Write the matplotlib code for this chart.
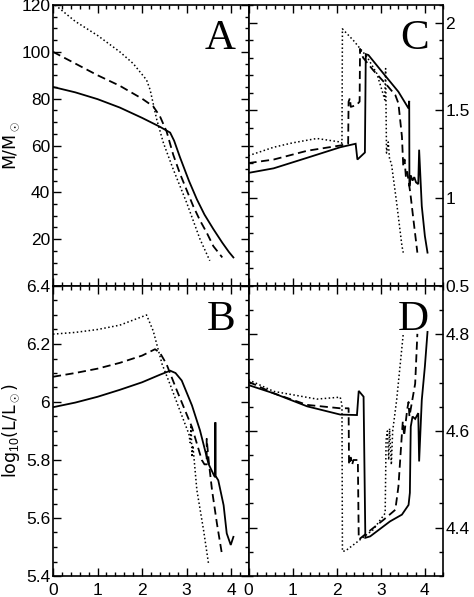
import numpy as np
import matplotlib.pyplot as plt
from matplotlib.ticker import MultipleLocator, FuncFormatter

# Panel A: M/Msun
a_solid_x = [0, 0.5, 1.0, 1.5, 2.0, 2.4, 2.63, 2.72, 2.85, 3.05, 3.23, 3.4, 3.6, 3.8, 3.95, 4.05]
a_solid_y = [85, 82.7, 79.8, 76.2, 71.8, 68, 65.5, 62, 55, 45, 37, 30.5, 24.3, 18.5, 14.5, 12.2]
a_dash_x = [0, 0.5, 1.0, 1.5, 2.0, 2.25, 2.4, 2.55, 2.7, 2.85, 3.0, 3.15, 3.3, 3.45, 3.6, 3.8]
a_dash_y = [100, 95, 90, 85.5, 80, 76.7, 72.5, 66, 56, 48, 41, 34, 28, 22.8, 17, 12.2]
a_dot_x = [0.05, 0.5, 1.0, 1.5, 1.8, 2.1, 2.18, 2.33, 2.48, 2.7, 3.0, 3.3, 3.52]
a_dot_y = [120, 113, 107, 100, 95, 88, 83.8, 71, 61, 49.8, 35.6, 20, 10.8]

# Panel B: log10(L/Lsun)
b_solid_x = [0, 0.5, 1.0, 1.5, 2.0, 2.4, 2.63, 2.75, 2.89, 3.12, 3.30, 3.49, 3.62,
             3.64, 3.645, 3.65, 3.71, 3.83, 3.9, 3.99, 4.05]
b_solid_y = [5.982, 5.998, 6.018, 6.042, 6.068, 6.094, 6.108, 6.1, 6.074, 5.988, 5.902,
             5.787, 5.745, 5.741, 5.93, 5.745, 5.73, 5.644, 5.547, 5.507, 5.535]
b_dash_x = [0, 0.5, 1.0, 1.5, 2.0, 2.29, 2.4, 2.55, 2.78, 3.12, 3.34, 3.4, 3.45, 3.45,
            3.5, 3.57, 3.68, 3.79]
b_dash_y = [6.087, 6.1, 6.115, 6.135, 6.16, 6.182, 6.17, 6.13, 6.04, 5.913, 5.80, 5.785,
            5.785, 5.873, 5.79, 5.696, 5.581, 5.478]
b_dot_x = [0, 0.5, 1.0, 1.5, 2.1, 2.25, 2.45, 2.63, 2.85, 3.05, 3.08, 3.1, 3.12, 3.14,
           3.23, 3.38, 3.49]
b_dot_y = [6.234, 6.24, 6.25, 6.265, 6.30, 6.245, 6.13, 6.06, 5.97, 5.89, 5.86, 5.92,
           5.81, 5.85, 5.696, 5.558, 5.444]

# Panel C
c_solid_x = [0, 0.57, 1.33, 2.08, 2.43, 2.47, 2.64, 2.66, 2.72, 3.06, 3.4, 3.63, 3.645,
             3.65, 3.68, 3.72, 3.76, 3.8, 3.85, 3.87, 3.93, 4.0, 4.06]
c_solid_y = [1.144, 1.17, 1.23, 1.29, 1.31, 1.22, 1.26, 1.82, 1.815, 1.71, 1.606, 1.511,
             1.554, 1.068, 1.13, 1.10, 1.12, 1.09, 1.08, 1.276, 0.955, 0.785, 0.69]
c_dash_x = [0, 0.57, 1.33, 2.08, 2.26, 2.27, 2.3, 2.32, 2.45, 2.52, 2.53, 2.6, 2.83, 3.14,
            3.33, 3.4, 3.48, 3.51, 3.54, 3.57, 3.6, 3.67, 3.74, 3.83]
c_dash_y = [1.2, 1.22, 1.27, 1.30, 1.31, 1.549, 1.57, 1.52, 1.53, 1.55, 1.85, 1.80, 1.728,
            1.643, 1.587, 1.54, 1.351, 1.181, 1.22, 1.12, 1.15, 1.03, 0.879, 0.69]
c_dot_x = [0, 0.57, 1.0, 1.55, 2.08, 2.12, 2.13, 2.38, 2.69, 2.91, 3.06, 3.09, 3.11, 3.13,
           3.17, 3.2, 3.24, 3.36, 3.48, 3.51]
c_dot_y = [1.242, 1.29, 1.315, 1.34, 1.32, 1.313, 1.964, 1.898, 1.804, 1.71, 1.587, 1.56,
           1.738, 1.257, 1.32, 1.22, 1.2, 0.974, 0.728, 0.69]

# Panel D
d_solid_x = [0, 0.57, 1.33, 2.08, 2.46, 2.5, 2.61, 2.65, 2.76, 3.21, 3.48, 3.63, 3.66,
             3.68, 3.72, 3.78, 3.85, 3.87, 3.93, 4.0, 4.06]
d_solid_y = [4.695, 4.678, 4.651, 4.634, 4.633, 4.683, 4.671, 4.379, 4.382, 4.413, 4.427,
             4.447, 4.472, 4.609, 4.63, 4.625, 4.637, 4.537, 4.664, 4.733, 4.805]
d_dash_x = [0, 0.57, 1.33, 2.08, 2.27, 2.28, 2.32, 2.35, 2.38, 2.48, 2.5, 2.51, 2.7, 3.06,
            3.33, 3.4, 3.48, 3.5, 3.53, 3.6, 3.63, 3.65, 3.78, 3.83]
d_dash_y = [4.702, 4.678, 4.654, 4.647, 4.647, 4.53, 4.545, 4.53, 4.54, 4.54, 4.38, 4.376,
            4.39, 4.416, 4.437, 4.485, 4.595, 4.62, 4.59, 4.645, 4.66, 4.63, 4.698, 4.801]
d_dot_x = [0, 0.57, 1.0, 1.55, 2.08, 2.12, 2.13, 2.2, 2.53, 2.83, 3.10, 3.12, 3.15, 3.18,
           3.2, 3.24, 3.27, 3.36, 3.51]
d_dot_y = [4.706, 4.682, 4.675, 4.666, 4.67, 4.654, 4.351, 4.352, 4.375, 4.396, 4.43,
           4.581, 4.60, 4.54, 4.605, 4.53, 4.6, 4.664, 4.801]

plt.rcParams['font.family'] = ['Liberation Sans', 'DejaVu Sans']
plt.rcParams['mathtext.fontset'] = 'custom'
plt.rcParams['mathtext.rm'] = 'Liberation Sans'

fig = plt.figure(figsize=(4.74, 5.97), dpi=100)
W, H = 474.0, 597.0
axA = fig.add_axes([53 / W, 1 - 286 / H, 196 / W, 281 / H])
axC = fig.add_axes([248.5 / W, 1 - 286 / H, 194 / W, 281 / H])
axB = fig.add_axes([53 / W, 1 - 576 / H, 196 / W, 290 / H])
axD = fig.add_axes([248.5 / W, 1 - 576 / H, 194 / W, 290 / H])


def draw(ax, sx, sy, dx, dy, ox, oy):
    ax.plot(sx, sy, color='black', lw=1.3, solid_joinstyle='miter')
    ax.plot(dx, dy, color='black', lw=1.3, dashes=(4.5, 2.5))
    ax.plot(ox, oy, color='black', lw=1.1, linestyle=(0, (1, 1.6)))


draw(axA, a_solid_x, a_solid_y, a_dash_x, a_dash_y, a_dot_x, a_dot_y)
draw(axB, b_solid_x, b_solid_y, b_dash_x, b_dash_y, b_dot_x, b_dot_y)
draw(axC, c_solid_x, c_solid_y, c_dash_x, c_dash_y, c_dot_x, c_dot_y)
draw(axD, d_solid_x, d_solid_y, d_dash_x, d_dash_y, d_dot_x, d_dot_y)

fmt = FuncFormatter(lambda v, p: '%g' % v)
settings = [
    (axA, (0, 120), [20, 40, 60, 80, 100, 120], 5, 'A', True, False),
    (axB, (5.4, 6.4), [5.4, 5.6, 5.8, 6.0, 6.2, 6.4], 0.05, 'B', True, True),
    (axC, (0.5, 2.1), [0.5, 1, 1.5, 2], 0.1, 'C', False, False),
    (axD, (4.3, 4.9), [4.4, 4.6, 4.8], 0.05, 'D', False, True),
]
for ax, ylim, yt, ymin, letter, left, bottom in settings:
    ax.set_xlim(0, 4.4)
    ax.set_ylim(*ylim)
    ax.set_yticks(yt)
    ax.yaxis.set_major_formatter(fmt)
    ax.yaxis.set_minor_locator(MultipleLocator(ymin))
    ax.set_xticks([0, 1, 2, 3, 4])
    ax.xaxis.set_minor_locator(MultipleLocator(0.2))
    ax.tick_params(which='both', direction='in', top=True, bottom=True,
                   left=True, right=True, width=1.0, labelsize=12.5)
    ax.tick_params(which='major', length=6)
    ax.tick_params(which='minor', length=3)
    ax.tick_params(axis='y', labelleft=left, labelright=not left, pad=2)
    ax.tick_params(axis='x', labelbottom=bottom, pad=5)
    for sp in ax.spines.values():
        sp.set_linewidth(1.2)
    ax.text(0.93, 0.95, letter, transform=ax.transAxes, ha='right', va='top',
            fontsize=31, family='Liberation Serif')

fig.text(11 / W, 1 - 145 / H, r'M/M$_\odot$', rotation=90, ha='center', va='center',
         fontsize=12.5, family=['DejaVu Sans'])
fig.text(11 / W, 1 - 431 / H, r'log$_{10}$(L/L$_\odot$)', rotation=90, ha='center',
         va='center', fontsize=12.5, family=['DejaVu Sans'])

fig.savefig('out.png', dpi=100)
